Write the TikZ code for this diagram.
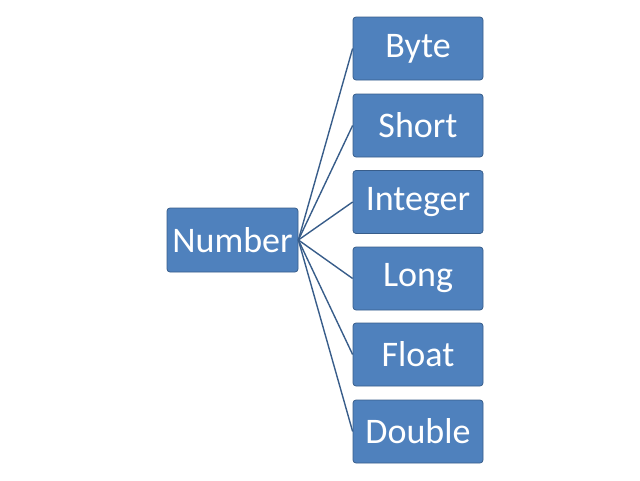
\documentclass[tikz,border=0pt]{standalone}
\usepackage{fontspec}
\setmainfont{Carlito}
\definecolor{boxfill}{RGB}{79,129,189}
\definecolor{boxline}{RGB}{56,93,138}
\tikzset{every picture/.style={line width=0.75pt}}
\tikzset{typebox/.style={draw=boxline,fill=boxfill,rounded corners=3pt,text=white,
  minimum width=130pt,minimum height=63pt,inner sep=0pt,font=\fontsize{36}{42}\selectfont}}
\begin{document}
\begin{tikzpicture}[x=1pt,y=1pt,yscale=-1,xscale=1]
	\useasboundingbox (0,0) rectangle (640,480);
	% root
	\node [typebox,minimum width=131pt,minimum height=64pt] (number) at (232.5,240) {Number};
	% children
	\foreach \name/\y in {Byte/48.5,Short/125.5,Integer/202,Long/278.5,Float/354.5,Double/431.5} {
		\node [typebox] (\name) at (418,\y) {\name};
		\draw [color=boxline,line width=1.4pt] (number.east) -- (\name.west);
	}
\end{tikzpicture}
\end{document}
